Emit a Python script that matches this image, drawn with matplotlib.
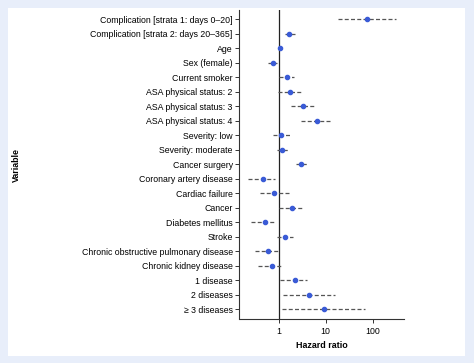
import matplotlib
matplotlib.use("Agg")
import matplotlib.pyplot as plt
from matplotlib.patches import Rectangle
import numpy as np

variables = [
    "Complication [strata 1: days 0\u201320]",
    "Complication [strata 2: days 20\u2013365]",
    "Age",
    "Sex (female)",
    "Current smoker",
    "ASA physical status: 2",
    "ASA physical status: 3",
    "ASA physical status: 4",
    "Severity: low",
    "Severity: moderate",
    "Cancer surgery",
    "Coronary artery disease",
    "Cardiac failure",
    "Cancer",
    "Diabetes mellitus",
    "Stroke",
    "Chronic obstructive pulmonary disease",
    "Chronic kidney disease",
    "1 disease",
    "2 diseases",
    "\u2265 3 diseases",
]
hr = [74, 1.64, 1.05, 0.75, 1.54, 1.75, 3.27, 6.5, 1.15, 1.2, 3.0, 0.46, 0.8, 1.93,
      0.52, 1.35, 0.61, 0.71, 2.2, 4.5, 9.2]
ci_low = [18, 1.35, 1.03, 0.61, 1.03, 0.99, 1.8, 3.0, 0.78, 0.94, 2.3, 0.23, 0.4, 1.03,
          0.26, 0.94, 0.31, 0.37, 1.07, 1.25, 1.19]
ci_high = [310, 2.26, 1.07, 0.94, 2.08, 3.27, 6.2, 13, 1.78, 1.6, 4.0, 0.84, 1.72, 3.4,
           0.88, 2.02, 1.03, 1.2, 4.1, 15.6, 68]
xticks = [1, 10, 100]
xticklabels = ["1", "10", "100"]

plt.rcParams['font.family'] = ['Liberation Sans', 'DejaVu Sans']

W, H = 474, 363
fig = plt.figure(figsize=(W / 100, H / 100), dpi=100, facecolor="#e8eefa")
bg = Rectangle((8 / W, 7 / H), (465 - 8) / W, (356 - 8) / H,
               transform=fig.transFigure, facecolor="white", edgecolor="none", zorder=-10)
fig.patches.append(bg)
ax = fig.add_axes([239 / W, 1 - 318.5 / H, (404 - 239) / W, (318.5 - 10) / H])
ax.set_facecolor("none")

y = np.arange(len(variables))
for yi, lo, hi in zip(y, ci_low, ci_high):
    ax.plot([lo, hi], [yi, yi], color="#555555", lw=0.9, ls=(0, (3.2, 1.8)), zorder=2)
ax.plot(hr, y, "o", color="#3a5bd6", ms=3.0, zorder=3, ls="none")
ax.axvline(1, color="#222222", lw=0.9, zorder=1)

ax.set_xscale("log")
ax.set_xlim(0.145, 460)
ax.set_ylim(len(variables) - 1 + 0.64, -0.64)
ax.set_xticks(xticks)
ax.set_xticklabels(xticklabels)
ax.xaxis.set_minor_locator(matplotlib.ticker.NullLocator())
ax.set_yticks(y)
ax.set_yticklabels(variables)
ax.tick_params(axis="both", labelsize=6.3, length=3, width=0.7, pad=1.5, colors="#333333",
               labelcolor="black")
ax.tick_params(axis="x", pad=3)
for s in ["top", "right"]:
    ax.spines[s].set_visible(False)
for s in ["left", "bottom"]:
    ax.spines[s].set_linewidth(0.8)
    ax.spines[s].set_color("#333333")

ax.set_xlabel("Hazard ratio", fontsize=6.4, fontweight="bold", labelpad=4)
fig.text(16 / W, 1 - 165 / H, "Variable", rotation=90, fontsize=6.4, fontweight="bold",
         ha="center", va="center")

fig.savefig("out.png", dpi=100, facecolor=fig.get_facecolor())
